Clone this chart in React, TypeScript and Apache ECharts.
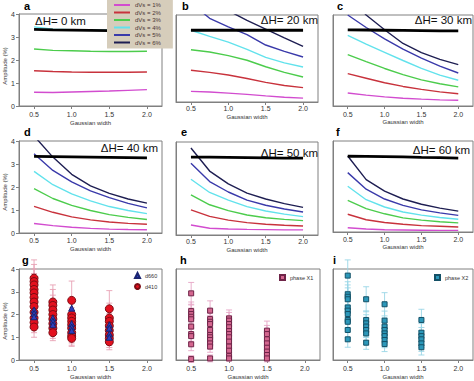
import React, { useEffect, useRef } from 'react';
import * as echarts from 'echarts';

const FONT = '"Liberation Sans", Arial, sans-serif';

// ---------- data ----------
const GAUSSIAN_WIDTHS = [0.5, 0.75, 1.0, 1.25, 1.5, 1.75, 2.0];
const X_TICKS = [0.5, 1.0, 1.5, 2.0];
const DVS_NAMES = ['dVs = 1%', 'dVs = 2%', 'dVs = 3%', 'dVs = 4%', 'dVs = 5%', 'dVs = 6%'];
const DVS_COLORS = ['#d24ccf', '#c8323c', '#4ccc4c', '#62e2ec', '#3a3aaa', '#1e1e52'];
const PANEL_LETTERS = ['a', 'b', 'c', 'd', 'e', 'f', 'g', 'h', 'i'];
const DELTA_H_LABELS = ['ΔH= 0 km', 'ΔH= 20 km', 'ΔH= 30 km', 'ΔH= 40 km', 'ΔH= 50 km', 'ΔH= 60 km'];

// amplitude (%) per dVs (1..6 %) for each ΔH
const dH0Lines = [
  [0.60, 0.59, 0.61, 0.63, 0.65, 0.68, 0.71],
  [1.53, 1.50, 1.48, 1.47, 1.47, 1.47, 1.48],
  [2.48, 2.42, 2.40, 2.38, 2.37, 2.37, 2.38],
  [3.44, 3.34, 3.32, 3.31, 3.30, 3.29, 3.29],
  [4.35, 4.30, 4.28, 4.27, 4.27, 4.27, 4.28],
  [5.25, 5.20, 5.18, 5.17, 5.17, 5.17, 5.18],
];
const dH0Observed = [3.33, 3.31, 3.30, 3.29, 3.28, 3.28, 3.28];

const dH20Lines = [
  [0.49, 0.46, 0.41, 0.35, 0.28, 0.22, 0.18],
  [1.46, 1.36, 1.24, 1.08, 0.90, 0.76, 0.66],
  [2.40, 2.30, 2.13, 1.92, 1.62, 1.36, 1.15],
  [3.30, 3.02, 2.75, 2.42, 2.05, 1.80, 1.61],
  [4.55, 3.85, 3.45, 3.10, 2.62, 2.33, 2.07],
  [5.60, 4.90, 4.20, 3.75, 3.35, 2.95, 2.56],
];
const dH20Observed = [3.30, 3.30, 3.30, 3.30, 3.30, 3.30, 3.30];

const dH30Lines = [
  [0.57, 0.48, 0.40, 0.34, 0.30, 0.27, 0.25],
  [1.42, 1.22, 1.02, 0.86, 0.73, 0.62, 0.54],
  [2.26, 1.95, 1.65, 1.38, 1.15, 0.98, 0.84],
  [3.10, 2.72, 2.36, 2.00, 1.65, 1.36, 1.13],
  [4.00, 3.45, 2.95, 2.50, 2.10, 1.75, 1.45],
  [4.90, 4.00, 3.35, 2.75, 2.35, 2.05, 1.82],
];
const dH30Observed = [3.35, 3.34, 3.33, 3.32, 3.31, 3.30, 3.30];

const dH40Lines = [
  [0.41, 0.32, 0.25, 0.20, 0.17, 0.15, 0.14],
  [1.16, 0.90, 0.70, 0.57, 0.48, 0.42, 0.38],
  [1.93, 1.50, 1.20, 0.98, 0.80, 0.68, 0.59],
  [2.68, 2.10, 1.70, 1.40, 1.15, 0.98, 0.84],
  [3.45, 2.72, 2.22, 1.83, 1.54, 1.29, 1.09],
  [4.22, 3.30, 2.55, 2.05, 1.72, 1.48, 1.30],
];
const dH40Observed = [3.33, 3.32, 3.31, 3.30, 3.29, 3.28, 3.27];

const dH50Lines = [
  [0.43, 0.29, 0.26, 0.24, 0.23, 0.22, 0.22],
  [1.08, 0.80, 0.64, 0.53, 0.46, 0.42, 0.39],
  [1.73, 1.30, 1.05, 0.86, 0.74, 0.67, 0.62],
  [2.40, 1.83, 1.50, 1.22, 1.03, 0.90, 0.79],
  [3.09, 2.30, 1.85, 1.50, 1.28, 1.12, 0.99],
  [3.74, 2.75, 2.20, 1.80, 1.55, 1.35, 1.19],
];
const dH50Observed = [3.35, 3.35, 3.34, 3.33, 3.32, 3.31, 3.31];

const dH60Lines = [
  [0.19, 0.13, 0.10, 0.09, 0.08, 0.07, 0.07],
  [0.78, 0.54, 0.42, 0.34, 0.28, 0.25, 0.22],
  [1.39, 1.03, 0.80, 0.62, 0.52, 0.45, 0.40],
  [2.01, 1.42, 1.10, 0.88, 0.74, 0.64, 0.56],
  [2.61, 1.88, 1.45, 1.17, 0.97, 0.84, 0.73],
  [3.34, 2.30, 1.80, 1.45, 1.22, 1.05, 0.92],
];
const dH60Observed = [3.33, 3.32, 3.31, 3.30, 3.28, 3.27, 3.25];

// measured amplitudes with errors (panels g-i)
const MEASURED_WIDTHS = [0.5, 0.75, 1.0, 1.5];

const d660Values = [[2.20, 2.05, 1.90], [1.85, 1.70, 1.55], [2.28, 1.60, 1.45, 1.30], [1.55, 1.40, 1.15, 1.00]];
const d660Errors = [[0.35, 0.35, 0.30], [0.30, 0.30, 0.30], [0.35, 0.30, 0.30, 0.30], [0.30, 0.30, 0.30, 0.30]];

const d410Values = [
  [3.60, 3.45, 3.30, 3.10, 2.95, 2.75, 2.55, 2.35, 2.10, 1.85, 1.65, 1.45],
  [2.55, 2.40, 2.20, 2.00, 1.80, 1.60, 1.40, 1.20],
  [2.62, 2.00, 1.85, 1.70, 1.55, 1.40, 1.20, 1.05, 0.95],
  [2.25, 1.85, 1.70, 1.50, 1.30, 1.10, 0.95, 0.80],
];
const d410Errors = [
  [0.80, 0.75, 0.70, 0.70, 0.65, 0.60, 0.60, 0.55, 0.50, 0.50, 0.45, 0.45],
  [0.75, 0.70, 0.65, 0.60, 0.55, 0.50, 0.45, 0.35],
  [0.85, 0.70, 0.65, 0.60, 0.55, 0.50, 0.45, 0.40, 0.35],
  [0.80, 0.65, 0.60, 0.55, 0.50, 0.45, 0.40, 0.35],
];

const phaseX1Values = [
  [2.93, 2.15, 2.02, 1.90, 1.79, 1.47, 1.14, 1.05, 0.69, 0.04],
  [2.17, 1.80, 1.68, 1.58, 1.32, 1.10, 1.00, 0.88, 0.73, 0.59, 0.07],
  [1.83, 1.73, 1.58, 1.44, 1.27, 1.14, 1.00, 0.81, 0.59, 0.41, 0.18, 0.07],
  [1.29, 1.14, 0.91, 0.73, 0.54, 0.37, 0.22, 0.07],
];
const phaseX1Errors = [
  [0.48, 0.40, 0.40, 0.38, 0.38, 0.35, 0.32, 0.30, 0.28, 0.15],
  [0.43, 0.40, 0.38, 0.38, 0.35, 0.32, 0.30, 0.28, 0.26, 0.25, 0.15],
  [0.37, 0.36, 0.35, 0.34, 0.33, 0.32, 0.30, 0.28, 0.26, 0.24, 0.15, 0.12],
  [0.42, 0.38, 0.35, 0.32, 0.30, 0.26, 0.20, 0.15],
];

const phaseX2Values = [
  [3.71, 2.89, 2.78, 2.67, 2.31, 2.17, 2.02, 1.76, 1.68, 1.32, 0.91],
  [2.67, 1.76, 1.61, 1.47, 1.32, 1.17, 0.76],
  [2.45, 1.73, 1.47, 1.32, 1.17, 1.05, 0.88, 0.70],
  [1.76, 1.20, 1.05, 0.91, 0.73, 0.56],
];
const phaseX2Errors = [
  [0.69, 0.55, 0.52, 0.50, 0.45, 0.42, 0.40, 0.38, 0.36, 0.35, 0.35],
  [0.55, 0.40, 0.38, 0.35, 0.33, 0.31, 0.29],
  [0.51, 0.42, 0.38, 0.36, 0.35, 0.34, 0.34, 0.33],
  [0.47, 0.40, 0.38, 0.36, 0.35, 0.34],
];

// ---------- layout ----------
const PANELS = [
  { grid: { left: 19, top: 14, width: 143, height: 92 }, showY: true, labelMargin: 5, nameGap: 14 },
  { grid: { left: 176, top: 15, width: 142, height: 87 }, showY: false, labelMargin: 2.5, nameGap: 12 },
  { grid: { left: 333, top: 15, width: 140, height: 91 }, showY: false, labelMargin: 5, nameGap: 13 },
  { grid: { left: 19, top: 141, width: 143, height: 92 }, showY: true, labelMargin: 4, nameGap: 13 },
  { grid: { left: 176, top: 142, width: 142, height: 93 }, showY: false, labelMargin: 3, nameGap: 11.5 },
  { grid: { left: 333, top: 141, width: 140, height: 91 }, showY: false, labelMargin: 4, nameGap: 11.5 },
  { grid: { left: 19, top: 269, width: 143, height: 91 }, showY: true, labelMargin: 5, nameGap: 14 },
  { grid: { left: 176, top: 269, width: 144, height: 91 }, showY: false, labelMargin: 5, nameGap: 14 },
  { grid: { left: 333, top: 269, width: 140, height: 91 }, showY: false, labelMargin: 5, nameGap: 14 },
];
const LETTER_POS = [[24, 6], [182, 6], [337, 6], [24, 131.8], [181, 131.8], [336, 131.8], [22, 259.5], [180, 259.5], [333, 259.5]];
const DELTA_POS = [
  { x: 35, y: 21, align: 'left' },
  { x: 318, y: 20, align: 'right' },
  { x: 472, y: 20.3, align: 'right' },
  { x: 158, y: 148, align: 'right' },
  { x: 318, y: 152.5, align: 'right' },
  { x: 470, y: 150, align: 'right' },
];
const AMP_LABEL_POS = [[5, 66], [5, 192], [5, 321]];

const FRAME = '#808080';

function lineSeries(panel: number, lines: number[][], observed: number[]) {
  const out: any[] = lines.map((vals, k) => ({
    type: 'line',
    name: DVS_NAMES[k],
    xAxisIndex: panel,
    yAxisIndex: panel,
    data: GAUSSIAN_WIDTHS.map((x, i) => [x, vals[i]]),
    symbol: 'none',
    showSymbol: false,
    clip: true,
    silent: true,
    z: 2,
    itemStyle: { color: DVS_COLORS[k] },
    lineStyle: { color: DVS_COLORS[k], width: 1.4 },
  }));
  out.push({
    type: 'line',
    name: 'observed',
    xAxisIndex: panel,
    yAxisIndex: panel,
    data: GAUSSIAN_WIDTHS.map((x, i) => [x, observed[i]]),
    symbol: 'none',
    showSymbol: false,
    clip: true,
    silent: true,
    z: 3,
    itemStyle: { color: '#000' },
    lineStyle: { color: '#000', width: 2.8 },
  });
  return out;
}

function flatten(values: number[][], errors: number[][]) {
  const pts: number[][] = [];
  values.forEach((col, j) => {
    col.forEach((v, i) => pts.push([MEASURED_WIDTHS[j], v, errors[j][i]]));
  });
  return pts;
}

function errorBars(panel: number, pts: number[][], color: string, capHalf: number) {
  return {
    type: 'custom',
    xAxisIndex: panel,
    yAxisIndex: panel,
    silent: true,
    z: 2,
    clip: false,
    data: pts.map((p) => [p[0], p[1] - p[2], p[1] + p[2]]),
    encode: { x: 0, y: [1, 2] },
    renderItem: (params: any, api: any) => {
      const x = api.value(0);
      const lo = api.value(1);
      const hi = api.value(2);
      const a = api.coord([x, hi]);
      const b = api.coord([x, lo]);
      const style = { stroke: color, lineWidth: 0.9, fill: null };
      return {
        type: 'group',
        children: [
          { type: 'line', shape: { x1: a[0], y1: a[1], x2: b[0], y2: b[1] }, style },
          { type: 'line', shape: { x1: a[0] - capHalf, y1: a[1], x2: a[0] + capHalf, y2: a[1] }, style },
          { type: 'line', shape: { x1: b[0] - capHalf, y1: b[1], x2: b[0] + capHalf, y2: b[1] }, style },
        ],
      };
    },
  };
}

function scatter(panel: number, name: string, pts: number[][], symbol: string, size: number, fill: string, border: string) {
  return {
    type: 'scatter',
    name,
    xAxisIndex: panel,
    yAxisIndex: panel,
    data: pts.map((p) => [p[0], p[1]]),
    symbol,
    symbolSize: size,
    silent: true,
    z: 3,
    itemStyle: { color: fill, borderColor: border, borderWidth: 1, opacity: 1 },
  };
}

export default function App() {
  const ref = useRef<HTMLDivElement>(null);

  useEffect(() => {
    document.body.style.margin = '0';
    if (!ref.current) return;
    const chart = echarts.init(ref.current, undefined, { renderer: 'svg' });

    const grids = PANELS.map((p) => ({ ...p.grid, show: true, borderColor: FRAME, borderWidth: 1, backgroundColor: 'transparent' }));
    const xAxes = PANELS.map((p, i) => ({
      type: 'value',
      gridIndex: i,
      min: 0.3,
      max: 2.2,
      axisLine: { show: true, lineStyle: { color: FRAME, width: 1 } },
      axisTick: { show: true, customValues: X_TICKS, length: 3, lineStyle: { color: FRAME } },
      axisLabel: {
        show: true,
        customValues: X_TICKS,
        formatter: (v: number) => v.toFixed(1),
        fontSize: 7,
        fontFamily: FONT,
        color: '#333',
        margin: p.labelMargin,
      },
      splitLine: { show: false },
      name: 'Gaussian width',
      nameLocation: 'middle',
      nameGap: p.nameGap,
      nameTextStyle: { fontSize: 6, fontFamily: FONT, color: '#333' },
    }));
    const yAxes = PANELS.map((p, i) => ({
      type: 'value',
      gridIndex: i,
      min: 0,
      max: 4,
      interval: 1,
      axisLine: { show: true, lineStyle: { color: FRAME, width: 1 } },
      axisTick: { show: p.showY, length: 3, lineStyle: { color: FRAME } },
      axisLabel: { show: p.showY, fontSize: 7, fontFamily: FONT, color: '#333', margin: 4 },
      splitLine: { show: false },
    }));

    const lineSets = [dH0Lines, dH20Lines, dH30Lines, dH40Lines, dH50Lines, dH60Lines];
    const obsSets = [dH0Observed, dH20Observed, dH30Observed, dH40Observed, dH50Observed, dH60Observed];
    const series: any[] = [];
    lineSets.forEach((ls, i) => series.push(...lineSeries(i, ls, obsSets[i])));

    const d410Pts = flatten(d410Values, d410Errors);
    const d660Pts = flatten(d660Values, d660Errors);
    const x1Pts = flatten(phaseX1Values, phaseX1Errors);
    const x2Pts = flatten(phaseX2Values, phaseX2Errors);

    series.push(errorBars(6, d410Pts, '#e8a2b4', 3));
    series.push(errorBars(6, d660Pts, '#8092d8', 2.5));
    series.push(scatter(6, 'd410', d410Pts, 'circle', 8, '#e3101e', '#7d0c14'));
    series.push(scatter(6, 'd660', d660Pts, 'triangle', 6, '#2c3fc0', '#1a2470'));
    series.push(errorBars(7, x1Pts, '#e6a6c6', 3));
    series.push(scatter(7, 'phase X1', x1Pts, 'rect', 5, '#d4668f', '#6f2448'));
    series.push(errorBars(8, x2Pts, '#9ad6e6', 3));
    series.push(scatter(8, 'phase X2', x2Pts, 'rect', 5, '#2c98ba', '#145066'));

    const graphics: any[] = [];
    PANEL_LETTERS.forEach((l, i) => {
      graphics.push({
        type: 'text',
        x: LETTER_POS[i][0],
        y: LETTER_POS[i][1],
        z: 10,
        style: { text: l, font: `bold 11px ${FONT}`, fill: '#000', textAlign: 'left', textVerticalAlign: 'middle', align: 'left', verticalAlign: 'middle' },
      });
    });
    DELTA_H_LABELS.forEach((t, i) => {
      const p = DELTA_POS[i];
      graphics.push({
        type: 'text',
        x: p.x,
        y: p.y,
        z: 10,
        style: { text: t, font: `11.5px ${FONT}`, fill: '#111', textAlign: p.align, textVerticalAlign: 'middle', align: p.align, verticalAlign: 'middle' },
      });
    });
    AMP_LABEL_POS.forEach((pos) => {
      graphics.push({
        type: 'text',
        x: pos[0],
        y: pos[1],
        rotation: Math.PI / 2,
        z: 10,
        style: { text: 'Amplitude (%)', font: `6px ${FONT}`, fill: '#333', textAlign: 'center', textVerticalAlign: 'middle', align: 'center', verticalAlign: 'middle' },
      });
    });

    chart.setOption({
      animation: false,
      grid: grids,
      xAxis: xAxes,
      yAxis: yAxes,
      series,
      graphic: graphics,
      legend: [
        {
          orient: 'vertical',
          left: 107,
          top: 0,
          data: DVS_NAMES.map((n) => ({ name: n, icon: 'rect' })),
          itemWidth: 16,
          itemHeight: 2,
          itemGap: 1.5,
          padding: [2, 12, 3, 7],
          backgroundColor: '#d6cdbb',
          selectedMode: false,
          textStyle: { fontSize: 6, lineHeight: 6, color: '#4a3535', fontFamily: FONT },
          z: 8,
        },
        {
          orient: 'vertical',
          left: 134,
          top: 272,
          data: ['d660', 'd410'],
          itemWidth: 5,
          itemHeight: 5,
          itemGap: 4,
          padding: 0,
          selectedMode: false,
          textStyle: { fontSize: 5.5, color: '#333', fontFamily: FONT },
        },
        {
          orient: 'vertical',
          left: 279,
          top: 274,
          data: ['phase X1'],
          itemWidth: 5,
          itemHeight: 5,
          padding: 0,
          selectedMode: false,
          textStyle: { fontSize: 5.5, color: '#333', fontFamily: FONT },
        },
        {
          orient: 'vertical',
          left: 434,
          top: 274,
          data: ['phase X2'],
          itemWidth: 5,
          itemHeight: 5,
          padding: 0,
          selectedMode: false,
          textStyle: { fontSize: 5.5, color: '#333', fontFamily: FONT },
        },
      ],
    });

    return () => chart.dispose();
  }, []);

  return <div ref={ref} style={{ position: 'absolute', left: 0, top: 0, width: 474, height: 381 }} />;
}
